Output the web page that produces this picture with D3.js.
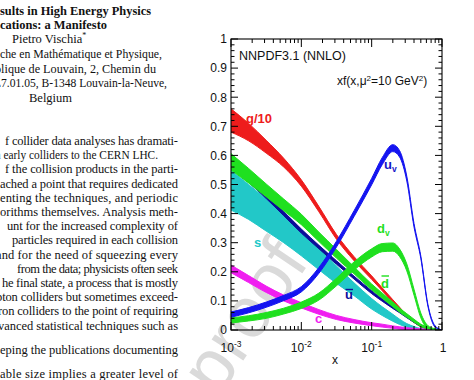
<!DOCTYPE html>
<html>
<head>
<meta charset="utf-8">
<script src="https://cdn.jsdelivr.net/npm/d3@7"></script>
<style>
  html, body { margin: 0; padding: 0; background: #fff; }
  svg { display: block; }
</style>
</head>
<body>
<div id="chart"></div>
<script>
// ---- chart data ----
const xGrid = [1e-3, 1.78e-3, 3.16e-3, 5.62e-3, 0.01, 0.0178, 0.0316, 0.0562, 0.1,
               0.141, 0.2, 0.25, 0.316, 0.4, 0.5, 0.63, 0.8, 1];

const gluonC = [0.72, 0.68, 0.63, 0.575, 0.505, 0.415, 0.32, 0.245, 0.18, 0.14, 0.10, 0.075, 0.048, 0.028, 0.013, 0.004, 0.001, 0];
const gluonE = [0.04, 0.03, 0.022, 0.015, 0.011, 0.009, 0.008, 0.007, 0.006, 0.005, 0.004, 0.003, 0.003, 0.002, 0.002, 0.001, 0, 0];

const ubarC = [0.565, 0.515, 0.46, 0.40, 0.34, 0.285, 0.232, 0.18, 0.13, 0.103, 0.078, 0.062, 0.045, 0.028, 0.014, 0.005, 0.001, 0];
const ubarE = [0.008, 0.008, 0.008, 0.007, 0.007, 0.006, 0.006, 0.005, 0.005, 0.004, 0.004, 0.003, 0.003, 0.002, 0.002, 0.001, 0, 0];

const dbarC = [0.578, 0.53, 0.48, 0.43, 0.38, 0.32, 0.262, 0.205, 0.148, 0.118, 0.088, 0.068, 0.05, 0.032, 0.016, 0.006, 0.001, 0];
const dbarE = [0.028, 0.025, 0.022, 0.02, 0.018, 0.016, 0.015, 0.012, 0.01, 0.009, 0.008, 0.007, 0.006, 0.005, 0.004, 0.003, 0.002, 0];

const sC = [0.48, 0.44, 0.395, 0.35, 0.30, 0.245, 0.19, 0.14, 0.09, 0.065, 0.042, 0.028, 0.016, 0.008, 0.003, 0.001, 0, 0];
const sE = [0.068, 0.06, 0.055, 0.05, 0.045, 0.038, 0.03, 0.022, 0.018, 0.015, 0.012, 0.009, 0.006, 0.004, 0.002, 0.001, 0, 0];

const uvC = [0.053, 0.068, 0.087, 0.11, 0.14, 0.205, 0.295, 0.40, 0.51, 0.58, 0.625, 0.605, 0.52, 0.36, 0.25, 0.085, 0.012, 0];
const uvE = [0.009, 0.009, 0.009, 0.009, 0.009, 0.01, 0.01, 0.01, 0.011, 0.012, 0.012, 0.011, 0.008, 0.006, 0.004, 0.003, 0.002, 0];

const dvC = [0.033, 0.04, 0.05, 0.065, 0.085, 0.115, 0.165, 0.22, 0.265, 0.283, 0.285, 0.265, 0.215, 0.13, 0.05, 0.01, 0.002, 0];
const dvE = [0.009, 0.009, 0.01, 0.01, 0.011, 0.012, 0.013, 0.014, 0.014, 0.014, 0.014, 0.013, 0.012, 0.01, 0.008, 0.005, 0.002, 0];

const cC = [0.21, 0.175, 0.14, 0.11, 0.085, 0.062, 0.043, 0.03, 0.02, 0.015, 0.01, 0.007, 0.005, 0.003, 0.002, 0.001, 0, 0];
const cE = [0.013, 0.012, 0.011, 0.01, 0.009, 0.008, 0.007, 0.006, 0.005, 0.005, 0.004, 0.004, 0.003, 0.003, 0.002, 0.001, 0.001, 0];

const xTickLabels = [1e-3, 1e-2, 1e-1, 1];

// ---- surrounding paper text (cropped page) ----
const headLines = [
  "sults in High Energy Physics",
  "cations: a Manifesto"
];
const affilLines = [
  "che en Mathématique et Physique,",
  "olique de Louvain, 2, Chemin du",
  "L7.01.05, B-1348 Louvain-la-Neuve,"
];
const bodyLines = [
  "f collider data analyses has dramati-",
  "n early colliders to the CERN LHC.",
  "f the collision products in the parti-",
  "ached a point that requires dedicated",
  "enting the techniques, and periodic",
  "orithms themselves. Analysis meth-",
  "unt for the increased complexity of",
  "particles required in each collision",
  "and for the need of squeezing every",
  "from the data; physicists often seek",
  "he final state, a process that is mostly",
  "pton colliders but sometimes exceed-",
  "ron colliders to the point of requiring",
  "vanced statistical techniques such as",
  "eping the publications documenting",
  "able size implies a greater level of"
];
const bodyStart = [5, -5, 5, 0, 0, 0, 7, 12, -4, 17, 2, -4, -2, -2, 0, 0];

const W = 474, H = 380;
const sans = "'Liberation Sans', Arial, Helvetica, sans-serif";
const serif = "'Liberation Serif', 'Times New Roman', serif";

const svg = d3.select('#chart').append('svg')
    .attr('width', W)
    .attr('height', H);

// watermark (behind everything)
svg.append('text')
    .attr('transform', 'translate(310,262) rotate(-56)')
    .attr('text-anchor', 'end')
    .style('font-family', sans)
    .style('font-size', '72px')
    .attr('fill', '#dadada')
    .text('Journal Pre-proof');

// paper text
const paper = svg.append('g')
    .style('font-family', serif)
    .attr('fill', '#111');

paper.selectAll('.head')
    .data(headLines)
    .enter().append('text')
    .attr('x', 0)
    .attr('y', (d, i) => 15 + i * 13.5)
    .attr('textLength', (d, i) => [151, 107][i])
    .attr('lengthAdjust', 'spacingAndGlyphs')
    .style('font-size', '13px')
    .style('font-weight', 'bold')
    .text(d => d);

const author = paper.append('text')
    .attr('x', 12).attr('y', 43)
    .style('font-size', '12.5px');
author.append('tspan').text('Pietro Vischia');
author.append('tspan').attr('dy', -5).style('font-size', '8px').text('*');

paper.selectAll('.affil')
    .data(affilLines)
    .enter().append('text')
    .attr('x', (d, i) => [0, -5, -6][i])
    .attr('y', (d, i) => 58 + i * 14.5)
    .attr('textLength', (d, i) => [162, 161, 173][i])
    .attr('lengthAdjust', 'spacingAndGlyphs')
    .style('font-size', '12.5px')
    .text(d => d);

paper.append('text')
    .attr('x', 29).attr('y', 101.5)
    .style('font-size', '12.5px')
    .text('Belgium');

paper.selectAll('.body')
    .data(bodyLines)
    .enter().append('text')
    .attr('x', (d, i) => bodyStart[i])
    .attr('y', (d, i) => i < 14 ? 145 + i * 14.2 : 354 + (i - 14) * 24)
    .attr('textLength', (d, i) => i === 1 ? 163 : 178 - bodyStart[i])
    .attr('lengthAdjust', (d, i) => i === 1 ? 'spacingAndGlyphs' : 'spacing')
    .style('font-size', '12.5px')
    .text(d => d);

// ---- chart ----
const x = d3.scaleLog().domain([1e-3, 1]).range([231, 442]);
const y = d3.scaleLinear().domain([0, 1]).range([330, 39]);

const colors = {
  red: '#ee1c1c', green: '#1fe01f', cyan: '#22c8c8',
  blue: '#1414f0', navy: '#0c0c9a', magenta: '#f01ef0'
};

svg.append('defs').append('clipPath').attr('id', 'plot')
  .append('rect')
    .attr('x', x.range()[0]).attr('y', y.range()[1])
    .attr('width', x.range()[1] - x.range()[0])
    .attr('height', y.range()[0] - y.range()[1]);

const bands = [
  { c: sC, e: sE, color: colors.cyan },
  { c: gluonC, e: gluonE, color: colors.red },
  { c: ubarC, e: ubarE, color: colors.navy },
  { c: dbarC, e: dbarE, color: colors.green },
  { c: cC, e: cE, color: colors.magenta },
  { c: dvC, e: dvE, color: colors.green },
  { c: uvC, e: uvE, color: colors.blue }
];

const area = d3.area()
    .x(d => x(d.x))
    .y0(d => y(Math.max(0, d.c - d.e)))
    .y1(d => y(d.c + d.e))
    .curve(d3.curveMonotoneX);

const graph = svg.append('g').attr('clip-path', 'url(#plot)');

graph.selectAll('.band')
    .data(bands)
    .enter().append('path')
    .attr('class', 'band')
    .attr('d', b => area(xGrid.map((xv, i) => ({ x: xv, c: b.c[i], e: b.e[i] }))))
    .attr('fill', b => b.color)
    .attr('stroke', b => b.color)
    .attr('stroke-width', 1);

// frame and ticks
const axes = svg.append('g').attr('stroke', '#000').attr('fill', 'none');
const [x0, x1] = x.range();
const [y0, y1] = y.range();

axes.append('rect')
    .attr('x', x0).attr('y', y1)
    .attr('width', x1 - x0).attr('height', y0 - y1)
    .attr('stroke-width', 1.1);

y.ticks(50).forEach(v => {
  const major = Math.round(v * 50) % 5 === 0;
  const len = major ? 7 : 3.5;
  axes.append('line').attr('x1', x0).attr('x2', x0 + len).attr('y1', y(v)).attr('y2', y(v));
  axes.append('line').attr('x1', x1).attr('x2', x1 - len).attr('y1', y(v)).attr('y2', y(v));
});

x.ticks().forEach(v => {
  const major = Math.abs(Math.log10(v) - Math.round(Math.log10(v))) < 1e-9;
  const len = major ? 8 : 4;
  axes.append('line').attr('x1', x(v)).attr('x2', x(v)).attr('y1', y0).attr('y2', y0 - len);
  axes.append('line').attr('x1', x(v)).attr('x2', x(v)).attr('y1', y1).attr('y2', y1 + len);
});

// tick labels
const labels = svg.append('g').style('font-family', sans).attr('fill', '#111');

labels.selectAll('.ylab')
    .data(y.ticks(10))
    .enter().append('text')
    .attr('x', 227)
    .attr('y', d => y(d) + 4.3)
    .attr('text-anchor', 'end')
    .style('font-size', '12px')
    .text(d => d === 0 ? '0' : d === 1 ? '1' : d3.format('.1f')(d));

xTickLabels.forEach(v => {
  const t = labels.append('text')
      .attr('x', x(v) + (v === 1 ? 1 : 0))
      .attr('y', 352)
      .attr('text-anchor', 'middle')
      .style('font-size', '12px');
  if (v === 1) {
    t.text('1');
  } else {
    t.append('tspan').text('10');
    t.append('tspan').attr('dy', -5).style('font-size', '8.5px')
        .text('-' + Math.round(-Math.log10(v)));
  }
});

labels.append('text')
    .attr('x', 335).attr('y', 364)
    .attr('text-anchor', 'middle')
    .style('font-size', '12px')
    .text('x');

labels.append('text')
    .attr('x', 239).attr('y', 60)
    .style('font-size', '12.5px')
    .text('NNPDF3.1 (NNLO)');

const qlab = labels.append('text')
    .attr('x', 337).attr('y', 85)
    .style('font-size', '12px');
qlab.append('tspan').text('xf(x,\u03bc');
qlab.append('tspan').attr('dy', -4.5).style('font-size', '8px').text('2');
qlab.append('tspan').attr('dy', 4.5).text('=10 GeV');
qlab.append('tspan').attr('dy', -4.5).style('font-size', '8px').text('2');
qlab.append('tspan').attr('dy', 4.5).text(')');

// curve labels
const cl = svg.append('g').style('font-family', sans).style('font-weight', 'bold').style('font-size', '13px');

cl.append('text').attr('x', 246).attr('y', 123).attr('fill', colors.red).text('g/10');
cl.append('text').attr('x', 254).attr('y', 247).attr('fill', colors.cyan).text('s');
cl.append('text').attr('x', 315).attr('y', 323).attr('fill', colors.magenta).text('c');

const uv = cl.append('text').attr('x', 384).attr('y', 169).attr('fill', '#1616c8');
uv.append('tspan').text('u');
uv.append('tspan').attr('dy', 3).style('font-size', '8.5px').text('v');

const dv = cl.append('text').attr('x', 377).attr('y', 233).attr('fill', colors.green);
dv.append('tspan').text('d');
dv.append('tspan').attr('dy', 3).style('font-size', '8.5px').text('v');

cl.append('text').attr('x', 381).attr('y', 288).attr('fill', colors.green).text('d');
cl.append('line').attr('x1', 381.5).attr('x2', 389).attr('y1', 276).attr('y2', 276)
    .attr('stroke', colors.green).attr('stroke-width', 1.4);

cl.append('text').attr('x', 345).attr('y', 299).attr('fill', colors.navy).text('u');
cl.append('line').attr('x1', 345.5).attr('x2', 353).attr('y1', 289.5).attr('y2', 289.5)
    .attr('stroke', colors.navy).attr('stroke-width', 1.4);
</script>
</body>
</html>
